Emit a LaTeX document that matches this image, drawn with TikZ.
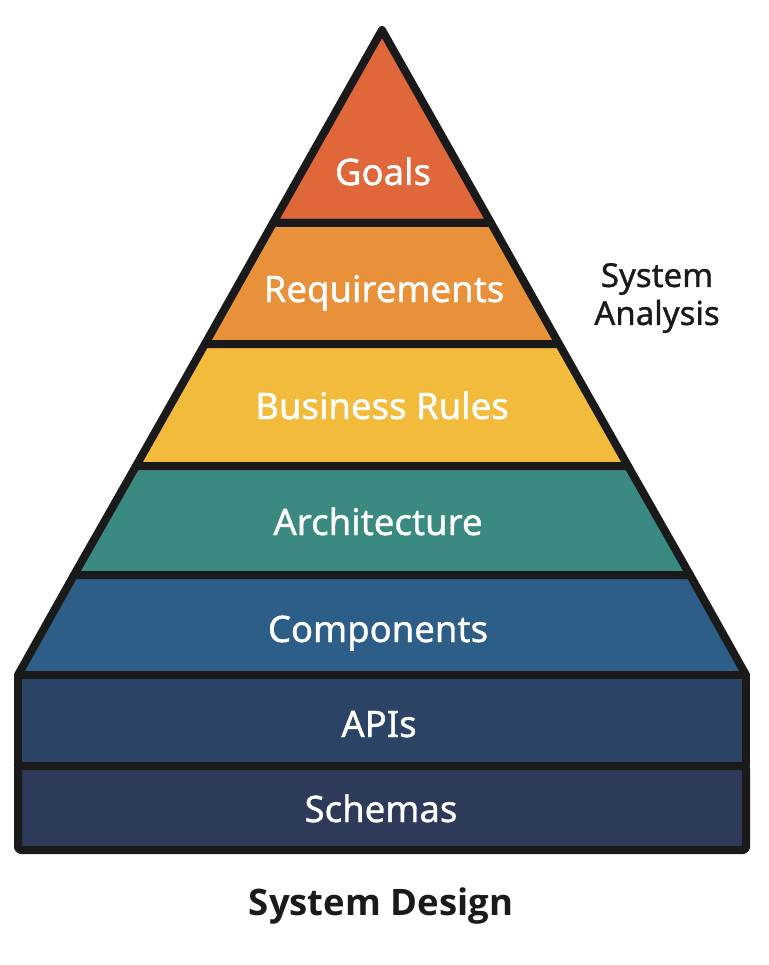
\documentclass[tikz,border=0pt]{standalone}
\usepackage{fontspec}
\setmainfont{Noto Sans}
\newfontfamily\labelfont[FakeBold=1]{Noto Sans}
\newfontfamily\headfont{Open Sans}
\definecolor{goalsc}{HTML}{E0673A}
\definecolor{reqc}{HTML}{E8913A}
\definecolor{rulesc}{HTML}{F2BB3C}
\definecolor{archc}{HTML}{3B8A81}
\definecolor{compc}{HTML}{2C5E88}
\definecolor{apic}{HTML}{2B4466}
\definecolor{schemac}{HTML}{2E3A5A}
\definecolor{edge}{HTML}{1A1A1A}

\begin{document}
\begin{tikzpicture}[x=1pt,y=-1pt,
  layer/.style={draw=edge, line width=8pt, line join=round},
  lbl/.style={text=white, anchor=base, font=\labelfont\fontsize{36.5}{40}\selectfont},
  side/.style={text=edge, align=center, font=\labelfont\fontsize{33}{38}\selectfont}]
\useasboundingbox[fill=white] (0,0) rectangle (768,965);

% pyramid layers, top down
\draw[layer, fill=goalsc] (382,30) -- (491,223) -- (273,223) -- cycle;
\draw[layer, fill=reqc] (273,223) -- (491,223) -- (559,344) -- (205,344) -- cycle;
\draw[layer, fill=rulesc] (205,344) -- (559,344) -- (628,466) -- (136,466) -- cycle;
\draw[layer, fill=archc] (136,466) -- (628,466) -- (690,575) -- (74,575) -- cycle;
\draw[layer, fill=compc] (74,575) -- (690,575) -- (746,675) -- (18,675) -- cycle;
% base blocks
\draw[layer, fill=apic] (18,675) -- (746,675) -- (746,766) -- (18,766) -- cycle;
\draw[layer, fill=schemac, rounded corners=3pt] (18,766) -- (746,766) -- (746,850) -- (18,850) -- cycle;

\node[lbl] (goals) at (383,185) {Goals};
\node[lbl] (reqs) at (384,302) {Requirements};
\node[lbl] (rules) at (382,419) {Business Rules};
\node[lbl] (arch) at (378,535) {Architecture};
\node[lbl] (comps) at (378,642) {Components};
\node[lbl] (apis) at (379,737) {APIs};
\node[lbl] (schemas) at (381,822) {Schemas};

\node[side] (analysis) at (657,298) {System\\Analysis};
\node[side, font=\headfont\bfseries\fontsize{36.5}{40}\selectfont] (design) at (381,906) {System Design};
\end{tikzpicture}
\end{document}
